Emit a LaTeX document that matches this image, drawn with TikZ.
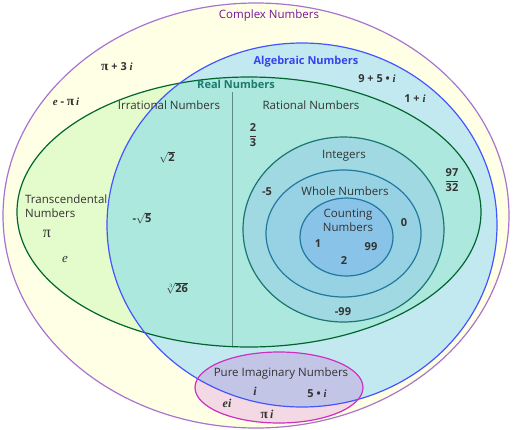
\documentclass[tikz,border=0pt]{standalone}
\usepackage{amsmath}
\usepackage{fontspec}
\setmainfont{Open Sans}
\newfontfamily\ivarfont{Liberation Serif}

\definecolor{cplxfill}{HTML}{FFFFE6}
\definecolor{cplxline}{HTML}{A874CC}
\definecolor{cplxtext}{HTML}{7A10A0}
\definecolor{transfill}{HTML}{E4FBCB}
\definecolor{algfill}{HTML}{C3E9F0}
\definecolor{algline}{HTML}{4455FF}
\definecolor{algtext}{HTML}{3344EE}
\definecolor{realfill}{HTML}{ACE8DE}
\definecolor{realline}{HTML}{00662E}
\definecolor{realtext}{HTML}{1B7A70}
\definecolor{intfill}{HTML}{A0D9E1}
\definecolor{intline}{HTML}{1B7570}
\definecolor{wholefill}{HTML}{97D2E4}
\definecolor{countfill}{HTML}{8AC3E8}
\definecolor{natline}{HTML}{2278A0}
\definecolor{imagfill}{HTML}{F2D9E3}
\definecolor{imagover}{HTML}{C3C5E6}
\definecolor{imagline}{HTML}{CC30C0}
\definecolor{divline}{HTML}{5A8A8A}
\definecolor{txtgray}{HTML}{333333}

\newcommand{\iu}{{\ivarfont\itshape\bfseries i}}
\newcommand{\piu}{{\ivarfont\bfseries\fontsize{13.5}{14}\selectfont π}}
\newcommand{\eu}{{\ivarfont\itshape\bfseries e}}

\begin{document}
\begin{tikzpicture}[x=1pt, y=-1pt,
	every node/.style={inner sep=0pt, text=txtgray, font=\fontsize{11.5}{14}\selectfont},
	setname/.style={font=\bfseries\fontsize{11}{14}\selectfont},
	member/.style={font=\bfseries\fontsize{11}{14}\selectfont},
	ring/.style={line width=1.2pt}]
	\useasboundingbox (0,0) rectangle (514,429);
	% regions
	\fill[cplxfill] (256,215.5) ellipse [x radius=253, y radius=212.5];
	\fill[transfill] (249,212) ellipse [x radius=232, y radius=135];
	\fill[algfill] (302,225) ellipse [x radius=195, y radius=182];
	\begin{scope}
		\clip (302,225) ellipse [x radius=195, y radius=182];
		\fill[realfill] (249,212) ellipse [x radius=232, y radius=135];
	\end{scope}
	\fill[imagfill] (279,387.5) ellipse [x radius=84, y radius=35.5];
	\begin{scope}
		\clip (302,225) ellipse [x radius=195, y radius=182];
		\fill[imagover] (279,387.5) ellipse [x radius=84, y radius=35.5];
	\end{scope}
	\filldraw[ring, intline, fill=intfill] (343.5,229.5) ellipse [x radius=100.5, y radius=92.5];
	\filldraw[ring, natline, fill=wholefill] (343.5,233.5) ellipse [x radius=77.5, y radius=63.5];
	\filldraw[ring, natline, fill=countfill] (346.5,237) ellipse [x radius=46.5, y radius=39];
	\draw[divline, line width=1pt] (232,92) -- (232,346.5);
	% outlines
	\draw[ring, cplxline] (256,215.5) ellipse [x radius=253, y radius=212.5];
	\draw[ring, realline] (249,212) ellipse [x radius=232, y radius=135];
	\draw[ring, algline] (302,225) ellipse [x radius=195, y radius=182];
	\draw[ring, imagline] (279,387.5) ellipse [x radius=84, y radius=35.5];
	% set names
	\node[text=cplxtext] (complex) at (269,16) {Complex Numbers};
	\node[setname, text=algtext] (algebraic) at (306,62) {Algebraic Numbers};
	\node[setname, text=realtext] (real) at (236,84.5) {Real Numbers};
	\node (irrational) at (169,105) {Irrational Numbers};
	\node (rational) at (311,105) {Rational Numbers};
	\node[align=left, anchor=west] (transc) at (25,206) {Transcendental\\Numbers};
	\node (integers) at (344,156) {Integers};
	\node (whole) at (345,191) {Whole Numbers};
	\node[align=center] (counting) at (348,220) {Counting\\Numbers};
	\node (imaginary) at (281,374) {Pure Imaginary Numbers};
	% members
	\node[member] (pithree) at (117,67) {\piu{} + 3 \iu};
	\node[member] (eminus) at (66,102) {\eu{} - \piu\,\iu};
	\node[member] (ninefive) at (377,79) {9 + 5 • \iu};
	\node[member] (oneplus) at (415,99) {1 + \iu};
	\node[member] (twothirds) at (253,135) {$\dfrac{\mbox{2}}{\mbox{3}}$};
	\node[member] (ninetyseven) at (452,180) {$\dfrac{\mbox{97}}{\mbox{32}}$};
	\node[font=\ivarfont\fontsize{16}{16}\selectfont] (pi) at (47,234) {π};
	\node[font=\ivarfont\itshape\fontsize{13}{14}\selectfont] (e) at (65,259) {e};
	\node[member] (roottwo) at (167,157) {$\sqrt{\mbox{2}}$};
	\node[member] (rootfive) at (142,218) {-$\sqrt{\mbox{5}}$};
	\node[member] (cuberoot) at (177,288) {$\sqrt[3]{\mbox{26}}$};
	\node[member] (minusfive) at (267,192) {-5};
	\node[member] (zero) at (404,223) {0};
	\node[member] (one) at (318,244) {1};
	\node[member] (ninetynine) at (371,247) {99};
	\node[member] (two) at (344,261) {2};
	\node[member] (minusnn) at (343,312) {-99};
	\node[member, font=\fontsize{12}{14}\selectfont] (imi) at (255,391) {\iu};
	\node[member] (fivei) at (317,394) {5 • \iu};
	\node[member, font=\fontsize{12}{14}\selectfont] (ei) at (227,403) {\eu\iu};
	\node[member, font=\fontsize{12}{14}\selectfont] (pii) at (267,414) {\piu\,\iu};
\end{tikzpicture}
\end{document}
